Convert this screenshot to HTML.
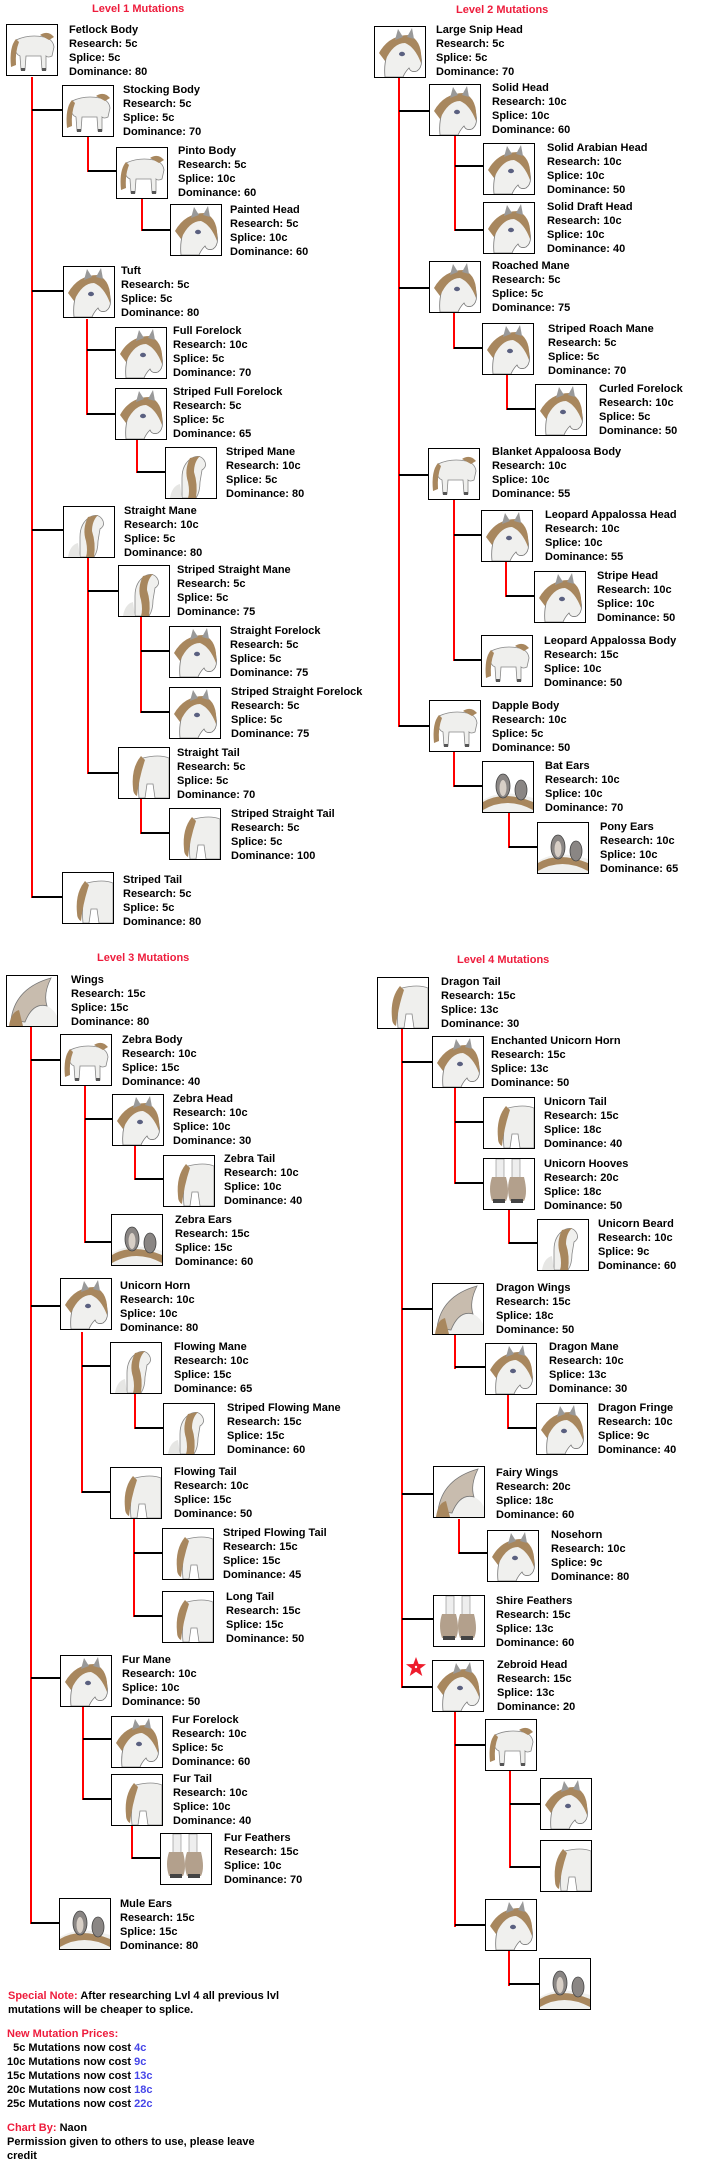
<!DOCTYPE html>
<html>
<head>
<meta charset="utf-8">
<style>
html,body{margin:0;padding:0;background:#fff;}
#pg{position:relative;width:706px;height:2170px;overflow:hidden;background:#fff;}
.b{position:absolute;width:50px;height:50px;border:1px solid #000;background:#fff;overflow:hidden;}
.b svg{display:block;width:50px;height:50px;}
.t{position:absolute;font:bold 11px/14px "Liberation Sans",Arial,sans-serif;color:#000;white-space:pre;}
.h{position:absolute;font:bold 11px/14px "Liberation Sans",Arial,sans-serif;color:#ee1c3c;white-space:pre;}
.r{position:absolute;width:2px;background:#ff0000;}
.k{position:absolute;height:2px;background:#000;}
.red{color:#ee1c3c;}
.blu{color:#4646e8;}
</style>
</head>
<body>
<div id="pg">
<svg width="0" height="0" style="position:absolute">
<defs>
<symbol id="body" viewBox="0 0 50 50">
<path d="M9 15 Q22 9 37 12 Q46 14 47 22 L45 31 Q41 33 39 31 L39 45 L35 45 L34 31 L19 31 L18 45 L14 45 L13 31 Q8 29 8 22Z" fill="#efefed" stroke="#888" stroke-width=".8"/>
<path d="M9 14 Q2 22 4 42 L9 40 Q8 27 12 17Z" fill="#a8875e"/>
<path d="M33 10 Q41 5 47 12 L42 15Z" fill="#a8875e"/>
<rect x="14" y="43" width="4" height="3" fill="#555"/><rect x="35" y="43" width="4" height="3" fill="#555"/>
</symbol>
<symbol id="head" viewBox="0 0 50 50">
<path d="M10 50 Q8 30 18 16 Q26 8 36 10 Q44 14 46 30 Q48 40 42 44 Q36 46 34 41 Q30 45 28 50Z" fill="#f0f0ee" stroke="#777" stroke-width=".8"/>
<path d="M4 26 Q14 8 34 8 Q48 14 46 36 Q40 20 30 16 Q18 16 10 34Z" fill="#a8875e"/>
<path d="M20 13 L23 2 L28 10Z" fill="#999"/><path d="M32 10 L37 1 L39 12Z" fill="#999"/>
<ellipse cx="27" cy="27" rx="3" ry="2.2" fill="#5a6080"/>
</symbol>
<symbol id="mane" viewBox="0 0 50 50">
<path d="M16 50 L16 30 Q16 16 26 10 Q34 6 38 12 Q42 18 36 22 L34 34 Q34 44 30 50Z" fill="#f0f0ee" stroke="#888" stroke-width=".8"/>
<path d="M24 10 Q18 22 22 34 Q24 44 22 50 L30 50 Q32 36 28 24 Q28 14 34 8Z" fill="#a8875e"/>
<path d="M4 50 Q6 38 14 36 L16 50Z" fill="#e6e6e4"/>
</symbol>
<symbol id="tail" viewBox="0 0 50 50">
<path d="M24 10 Q40 6 50 10 L50 50 L36 50 L34 36 L28 36 L26 50 L20 50 Q18 30 24 10Z" fill="#efefed" stroke="#888" stroke-width=".8"/>
<path d="M22 8 Q12 20 14 40 Q14 46 18 48 Q20 30 26 12Z" fill="#a8875e"/>
</symbol>
<symbol id="ears" viewBox="0 0 50 50">
<path d="M0 50 L0 38 Q20 26 50 36 L50 50Z" fill="#f0f0ee"/>
<path d="M0 40 Q20 28 50 40 L50 48 Q24 34 0 48Z" fill="#a8875e"/>
<ellipse cx="20" cy="24" rx="7" ry="12" fill="#8a8684" stroke="#444" stroke-width=".8"/>
<ellipse cx="20" cy="26" rx="3.5" ry="8" fill="#d8cfc6"/>
<ellipse cx="38" cy="28" rx="6" ry="10" fill="#8a8684" stroke="#444" stroke-width=".8"/>
</symbol>
<symbol id="hooves" viewBox="0 0 50 50">
<rect x="12" y="0" width="8" height="20" fill="#eee" stroke="#888" stroke-width=".6"/>
<rect x="28" y="0" width="8" height="20" fill="#eee" stroke="#888" stroke-width=".6"/>
<path d="M8 18 L22 18 Q26 34 22 42 L8 42 Q4 30 8 18Z" fill="#b3a08c"/>
<path d="M26 18 L40 18 Q44 34 40 42 L26 42 Q22 30 26 18Z" fill="#b3a08c"/>
<rect x="9" y="40" width="12" height="4" fill="#444"/><rect x="27" y="40" width="12" height="4" fill="#444"/>
</symbol>
<symbol id="wings" viewBox="0 0 50 50">
<path d="M10 50 Q14 30 30 28 Q44 28 50 40 L50 50Z" fill="#f0f0ee"/>
<path d="M4 44 Q8 12 44 2 Q36 18 40 30 Q26 26 18 46Z" fill="#c8bcae" stroke="#777" stroke-width=".8"/>
<path d="M2 50 Q4 36 12 34 L16 50Z" fill="#a8875e"/>
</symbol>
<symbol id="star" viewBox="0 0 22 22">
<path d="M11 1 L13.6 8 L21 8.2 L15.1 12.8 L17.3 20 L11 15.8 L4.7 20 L6.9 12.8 L1 8.2 L8.4 8Z" fill="#ee1c2c"/>
<circle cx="11" cy="11" r="1.2" fill="#fff"/>
</symbol>
</defs>
</svg>

<!-- ============ LEVEL 1 ============ -->
<div class="h" style="left:92px;top:2px">Level 1 Mutations</div>

<div class="r" style="left:31px;top:77px;height:821px"></div>
<div class="k" style="left:32px;top:109px;width:30px"></div>
<div class="k" style="left:32px;top:290px;width:31px"></div>
<div class="k" style="left:32px;top:529px;width:31px"></div>
<div class="k" style="left:32px;top:896px;width:30px"></div>

<div class="r" style="left:87px;top:137px;height:35px"></div>
<div class="k" style="left:88px;top:170px;width:28px"></div>
<div class="r" style="left:141px;top:197px;height:34px"></div>
<div class="k" style="left:142px;top:229px;width:28px"></div>
<div class="r" style="left:86px;top:319px;height:96px"></div>
<div class="k" style="left:87px;top:349px;width:28px"></div>
<div class="k" style="left:87px;top:413px;width:28px"></div>
<div class="r" style="left:136px;top:437px;height:36px"></div>
<div class="k" style="left:137px;top:471px;width:28px"></div>
<div class="r" style="left:87px;top:557px;height:217px"></div>
<div class="k" style="left:88px;top:590px;width:30px"></div>
<div class="k" style="left:88px;top:772px;width:30px"></div>
<div class="r" style="left:140px;top:616px;height:97px"></div>
<div class="k" style="left:141px;top:650px;width:28px"></div>
<div class="k" style="left:141px;top:711px;width:28px"></div>
<div class="r" style="left:140px;top:798px;height:36px"></div>
<div class="k" style="left:141px;top:832px;width:28px"></div>

<div class="b" style="left:6px;top:24px"><svg><use href="#body"/></svg></div>
<div class="t" style="left:69px;top:23px">Fetlock Body
Research: 5c
Splice: 5c
Dominance: 80</div>
<div class="b" style="left:62px;top:85px"><svg><use href="#body"/></svg></div>
<div class="t" style="left:123px;top:83px">Stocking Body
Research: 5c
Splice: 5c
Dominance: 70</div>
<div class="b" style="left:116px;top:147px"><svg><use href="#body"/></svg></div>
<div class="t" style="left:178px;top:144px">Pinto Body
Research: 5c
Splice: 10c
Dominance: 60</div>
<div class="b" style="left:170px;top:204px"><svg><use href="#head"/></svg></div>
<div class="t" style="left:230px;top:203px">Painted Head
Research: 5c
Splice: 10c
Dominance: 60</div>
<div class="b" style="left:63px;top:266px"><svg><use href="#head"/></svg></div>
<div class="t" style="left:121px;top:264px">Tuft
Research: 5c
Splice: 5c
Dominance: 80</div>
<div class="b" style="left:115px;top:327px"><svg><use href="#head"/></svg></div>
<div class="t" style="left:173px;top:324px">Full Forelock
Research: 10c
Splice: 5c
Dominance: 70</div>
<div class="b" style="left:115px;top:388px"><svg><use href="#head"/></svg></div>
<div class="t" style="left:173px;top:385px">Striped Full Forelock
Research: 5c
Splice: 5c
Dominance: 65</div>
<div class="b" style="left:165px;top:447px"><svg><use href="#mane"/></svg></div>
<div class="t" style="left:226px;top:445px">Striped Mane
Research: 10c
Splice: 5c
Dominance: 80</div>
<div class="b" style="left:63px;top:506px"><svg><use href="#mane"/></svg></div>
<div class="t" style="left:124px;top:504px">Straight Mane
Research: 10c
Splice: 5c
Dominance: 80</div>
<div class="b" style="left:118px;top:565px"><svg><use href="#mane"/></svg></div>
<div class="t" style="left:177px;top:563px">Striped Straight Mane
Research: 5c
Splice: 5c
Dominance: 75</div>
<div class="b" style="left:169px;top:626px"><svg><use href="#head"/></svg></div>
<div class="t" style="left:230px;top:624px">Straight Forelock
Research: 5c
Splice: 5c
Dominance: 75</div>
<div class="b" style="left:169px;top:687px"><svg><use href="#head"/></svg></div>
<div class="t" style="left:231px;top:685px">Striped Straight Forelock
Research: 5c
Splice: 5c
Dominance: 75</div>
<div class="b" style="left:118px;top:747px"><svg><use href="#tail"/></svg></div>
<div class="t" style="left:177px;top:746px">Straight Tail
Research: 5c
Splice: 5c
Dominance: 70</div>
<div class="b" style="left:169px;top:808px"><svg><use href="#tail"/></svg></div>
<div class="t" style="left:231px;top:807px">Striped Straight Tail
Research: 5c
Splice: 5c
Dominance: 100</div>
<div class="b" style="left:62px;top:872px"><svg><use href="#tail"/></svg></div>
<div class="t" style="left:123px;top:873px">Striped Tail
Research: 5c
Splice: 5c
Dominance: 80</div>

<!-- ============ LEVEL 2 ============ -->
<div class="h" style="left:456px;top:3px">Level 2 Mutations</div>

<div class="r" style="left:398px;top:77px;height:650px"></div>
<div class="k" style="left:399px;top:110px;width:30px"></div>
<div class="k" style="left:399px;top:287px;width:30px"></div>
<div class="k" style="left:399px;top:474px;width:29px"></div>
<div class="k" style="left:399px;top:725px;width:30px"></div>

<div class="r" style="left:454px;top:136px;height:95px"></div>
<div class="k" style="left:455px;top:165px;width:28px"></div>
<div class="k" style="left:455px;top:229px;width:28px"></div>
<div class="r" style="left:453px;top:313px;height:36px"></div>
<div class="k" style="left:454px;top:347px;width:28px"></div>
<div class="r" style="left:506px;top:375px;height:35px"></div>
<div class="k" style="left:507px;top:408px;width:28px"></div>
<div class="r" style="left:453px;top:500px;height:161px"></div>
<div class="k" style="left:454px;top:534px;width:27px"></div>
<div class="k" style="left:454px;top:659px;width:27px"></div>
<div class="r" style="left:505px;top:561px;height:36px"></div>
<div class="k" style="left:506px;top:595px;width:28px"></div>
<div class="r" style="left:453px;top:751px;height:36px"></div>
<div class="k" style="left:454px;top:785px;width:28px"></div>
<div class="r" style="left:508px;top:812px;height:36px"></div>
<div class="k" style="left:509px;top:846px;width:28px"></div>

<div class="b" style="left:374px;top:26px"><svg><use href="#head"/></svg></div>
<div class="t" style="left:436px;top:23px">Large Snip Head
Research: 5c
Splice: 5c
Dominance: 70</div>
<div class="b" style="left:429px;top:84px"><svg><use href="#head"/></svg></div>
<div class="t" style="left:492px;top:81px">Solid Head
Research: 10c
Splice: 10c
Dominance: 60</div>
<div class="b" style="left:483px;top:143px"><svg><use href="#head"/></svg></div>
<div class="t" style="left:547px;top:141px">Solid Arabian Head
Research: 10c
Splice: 10c
Dominance: 50</div>
<div class="b" style="left:483px;top:202px"><svg><use href="#head"/></svg></div>
<div class="t" style="left:547px;top:200px">Solid Draft Head
Research: 10c
Splice: 10c
Dominance: 40</div>
<div class="b" style="left:429px;top:261px"><svg><use href="#head"/></svg></div>
<div class="t" style="left:492px;top:259px">Roached Mane
Research: 5c
Splice: 5c
Dominance: 75</div>
<div class="b" style="left:482px;top:323px"><svg><use href="#head"/></svg></div>
<div class="t" style="left:548px;top:322px">Striped Roach Mane
Research: 5c
Splice: 5c
Dominance: 70</div>
<div class="b" style="left:535px;top:384px"><svg><use href="#head"/></svg></div>
<div class="t" style="left:599px;top:382px">Curled Forelock
Research: 10c
Splice: 5c
Dominance: 50</div>
<div class="b" style="left:428px;top:448px"><svg><use href="#body"/></svg></div>
<div class="t" style="left:492px;top:445px">Blanket Appaloosa Body
Research: 10c
Splice: 10c
Dominance: 55</div>
<div class="b" style="left:481px;top:510px"><svg><use href="#head"/></svg></div>
<div class="t" style="left:545px;top:508px">Leopard Appalossa Head
Research: 10c
Splice: 10c
Dominance: 55</div>
<div class="b" style="left:534px;top:571px"><svg><use href="#head"/></svg></div>
<div class="t" style="left:597px;top:569px">Stripe Head
Research: 10c
Splice: 10c
Dominance: 50</div>
<div class="b" style="left:481px;top:635px"><svg><use href="#body"/></svg></div>
<div class="t" style="left:544px;top:634px">Leopard Appalossa Body
Research: 15c
Splice: 10c
Dominance: 50</div>
<div class="b" style="left:429px;top:700px"><svg><use href="#body"/></svg></div>
<div class="t" style="left:492px;top:699px">Dapple Body
Research: 10c
Splice: 5c
Dominance: 50</div>
<div class="b" style="left:482px;top:761px"><svg><use href="#ears"/></svg></div>
<div class="t" style="left:545px;top:759px">Bat Ears
Research: 10c
Splice: 10c
Dominance: 70</div>
<div class="b" style="left:537px;top:822px"><svg><use href="#ears"/></svg></div>
<div class="t" style="left:600px;top:820px">Pony Ears
Research: 10c
Splice: 10c
Dominance: 65</div>

<!-- ============ LEVEL 3 ============ -->
<div class="h" style="left:97px;top:951px">Level 3 Mutations</div>

<div class="r" style="left:30px;top:1026px;height:898px"></div>
<div class="k" style="left:31px;top:1059px;width:29px"></div>
<div class="k" style="left:31px;top:1305px;width:29px"></div>
<div class="k" style="left:31px;top:1677px;width:29px"></div>
<div class="k" style="left:31px;top:1922px;width:28px"></div>

<div class="r" style="left:84px;top:1086px;height:157px"></div>
<div class="k" style="left:85px;top:1118px;width:27px"></div>
<div class="k" style="left:85px;top:1241px;width:26px"></div>
<div class="r" style="left:134px;top:1144px;height:36px"></div>
<div class="k" style="left:135px;top:1178px;width:28px"></div>
<div class="r" style="left:81px;top:1332px;height:161px"></div>
<div class="k" style="left:82px;top:1365px;width:28px"></div>
<div class="k" style="left:82px;top:1491px;width:28px"></div>
<div class="r" style="left:134px;top:1393px;height:36px"></div>
<div class="k" style="left:135px;top:1427px;width:28px"></div>
<div class="r" style="left:133px;top:1518px;height:99px"></div>
<div class="k" style="left:134px;top:1552px;width:28px"></div>
<div class="k" style="left:134px;top:1615px;width:28px"></div>
<div class="r" style="left:82px;top:1705px;height:95px"></div>
<div class="k" style="left:83px;top:1738px;width:28px"></div>
<div class="k" style="left:83px;top:1798px;width:28px"></div>
<div class="r" style="left:131px;top:1823px;height:36px"></div>
<div class="k" style="left:132px;top:1857px;width:28px"></div>

<div class="b" style="left:6px;top:975px"><svg><use href="#wings"/></svg></div>
<div class="t" style="left:71px;top:973px">Wings
Research: 15c
Splice: 15c
Dominance: 80</div>
<div class="b" style="left:60px;top:1034px"><svg><use href="#body"/></svg></div>
<div class="t" style="left:122px;top:1033px">Zebra Body
Research: 10c
Splice: 15c
Dominance: 40</div>
<div class="b" style="left:112px;top:1094px"><svg><use href="#head"/></svg></div>
<div class="t" style="left:173px;top:1092px">Zebra Head
Research: 10c
Splice: 10c
Dominance: 30</div>
<div class="b" style="left:163px;top:1155px"><svg><use href="#tail"/></svg></div>
<div class="t" style="left:224px;top:1152px">Zebra Tail
Research: 10c
Splice: 10c
Dominance: 40</div>
<div class="b" style="left:111px;top:1214px"><svg><use href="#ears"/></svg></div>
<div class="t" style="left:175px;top:1213px">Zebra Ears
Research: 15c
Splice: 15c
Dominance: 60</div>
<div class="b" style="left:60px;top:1278px"><svg><use href="#head"/></svg></div>
<div class="t" style="left:120px;top:1279px">Unicorn Horn
Research: 10c
Splice: 10c
Dominance: 80</div>
<div class="b" style="left:110px;top:1342px"><svg><use href="#mane"/></svg></div>
<div class="t" style="left:174px;top:1340px">Flowing Mane
Research: 10c
Splice: 15c
Dominance: 65</div>
<div class="b" style="left:163px;top:1403px"><svg><use href="#mane"/></svg></div>
<div class="t" style="left:227px;top:1401px">Striped Flowing Mane
Research: 15c
Splice: 15c
Dominance: 60</div>
<div class="b" style="left:110px;top:1467px"><svg><use href="#tail"/></svg></div>
<div class="t" style="left:174px;top:1465px">Flowing Tail
Research: 10c
Splice: 15c
Dominance: 50</div>
<div class="b" style="left:162px;top:1528px"><svg><use href="#tail"/></svg></div>
<div class="t" style="left:223px;top:1526px">Striped Flowing Tail
Research: 15c
Splice: 15c
Dominance: 45</div>
<div class="b" style="left:162px;top:1591px"><svg><use href="#tail"/></svg></div>
<div class="t" style="left:226px;top:1590px">Long Tail
Research: 15c
Splice: 15c
Dominance: 50</div>
<div class="b" style="left:60px;top:1655px"><svg><use href="#head"/></svg></div>
<div class="t" style="left:122px;top:1653px">Fur Mane
Research: 10c
Splice: 10c
Dominance: 50</div>
<div class="b" style="left:111px;top:1716px"><svg><use href="#head"/></svg></div>
<div class="t" style="left:172px;top:1713px">Fur Forelock
Research: 10c
Splice: 5c
Dominance: 60</div>
<div class="b" style="left:111px;top:1774px"><svg><use href="#tail"/></svg></div>
<div class="t" style="left:173px;top:1772px">Fur Tail
Research: 10c
Splice: 10c
Dominance: 40</div>
<div class="b" style="left:160px;top:1833px"><svg><use href="#hooves"/></svg></div>
<div class="t" style="left:224px;top:1831px">Fur Feathers
Research: 15c
Splice: 10c
Dominance: 70</div>
<div class="b" style="left:59px;top:1898px"><svg><use href="#ears"/></svg></div>
<div class="t" style="left:120px;top:1897px">Mule Ears
Research: 15c
Splice: 15c
Dominance: 80</div>

<!-- ============ LEVEL 4 ============ -->
<div class="h" style="left:457px;top:953px">Level 4 Mutations</div>

<div class="r" style="left:401px;top:1028px;height:660px"></div>
<div class="k" style="left:402px;top:1061px;width:30px"></div>
<div class="k" style="left:402px;top:1308px;width:30px"></div>
<div class="k" style="left:402px;top:1493px;width:31px"></div>
<div class="k" style="left:402px;top:1618px;width:31px"></div>
<div class="k" style="left:402px;top:1686px;width:30px"></div>

<div class="r" style="left:454px;top:1087px;height:97px"></div>
<div class="k" style="left:455px;top:1121px;width:28px"></div>
<div class="k" style="left:455px;top:1182px;width:28px"></div>
<div class="r" style="left:508px;top:1209px;height:35px"></div>
<div class="k" style="left:509px;top:1242px;width:28px"></div>
<div class="r" style="left:454px;top:1334px;height:35px"></div>
<div class="k" style="left:455px;top:1366px;width:30px"></div>
<div class="r" style="left:507px;top:1393px;height:36px"></div>
<div class="k" style="left:508px;top:1427px;width:28px"></div>
<div class="r" style="left:458px;top:1519px;height:35px"></div>
<div class="k" style="left:459px;top:1552px;width:28px"></div>
<div class="r" style="left:454px;top:1711px;height:216px"></div>
<div class="k" style="left:455px;top:1744px;width:30px"></div>
<div class="k" style="left:455px;top:1924px;width:30px"></div>
<div class="r" style="left:509px;top:1770px;height:98px"></div>
<div class="k" style="left:510px;top:1803px;width:30px"></div>
<div class="k" style="left:510px;top:1866px;width:30px"></div>
<div class="r" style="left:508px;top:1950px;height:36px"></div>
<div class="k" style="left:509px;top:1983px;width:30px"></div>

<div class="b" style="left:377px;top:977px"><svg><use href="#tail"/></svg></div>
<div class="t" style="left:441px;top:975px">Dragon Tail
Research: 15c
Splice: 13c
Dominance: 30</div>
<div class="b" style="left:432px;top:1036px"><svg><use href="#head"/></svg></div>
<div class="t" style="left:491px;top:1034px">Enchanted Unicorn Horn
Research: 15c
Splice: 13c
Dominance: 50</div>
<div class="b" style="left:483px;top:1097px"><svg><use href="#tail"/></svg></div>
<div class="t" style="left:544px;top:1095px">Unicorn Tail
Research: 15c
Splice: 18c
Dominance: 40</div>
<div class="b" style="left:483px;top:1158px"><svg><use href="#hooves"/></svg></div>
<div class="t" style="left:544px;top:1157px">Unicorn Hooves
Research: 20c
Splice: 18c
Dominance: 50</div>
<div class="b" style="left:537px;top:1219px"><svg><use href="#mane"/></svg></div>
<div class="t" style="left:598px;top:1217px">Unicorn Beard
Research: 10c
Splice: 9c
Dominance: 60</div>
<div class="b" style="left:432px;top:1283px"><svg><use href="#wings"/></svg></div>
<div class="t" style="left:496px;top:1281px">Dragon Wings
Research: 15c
Splice: 18c
Dominance: 50</div>
<div class="b" style="left:485px;top:1343px"><svg><use href="#head"/></svg></div>
<div class="t" style="left:549px;top:1340px">Dragon Mane
Research: 10c
Splice: 13c
Dominance: 30</div>
<div class="b" style="left:536px;top:1403px"><svg><use href="#head"/></svg></div>
<div class="t" style="left:598px;top:1401px">Dragon Fringe
Research: 10c
Splice: 9c
Dominance: 40</div>
<div class="b" style="left:433px;top:1466px"><svg><use href="#wings"/></svg></div>
<div class="t" style="left:496px;top:1466px">Fairy Wings
Research: 20c
Splice: 18c
Dominance: 60</div>
<div class="b" style="left:487px;top:1530px"><svg><use href="#head"/></svg></div>
<div class="t" style="left:551px;top:1528px">Nosehorn
Research: 10c
Splice: 9c
Dominance: 80</div>
<div class="b" style="left:433px;top:1595px"><svg><use href="#hooves"/></svg></div>
<div class="t" style="left:496px;top:1594px">Shire Feathers
Research: 15c
Splice: 13c
Dominance: 60</div>
<div class="b" style="left:432px;top:1660px"><svg><use href="#head"/></svg></div>
<div class="t" style="left:497px;top:1658px">Zebroid Head
Research: 15c
Splice: 13c
Dominance: 20</div>
<svg style="position:absolute;left:405px;top:1656px" width="22" height="22"><use href="#star"/></svg>

<div class="b" style="left:485px;top:1719px"><svg><use href="#body"/></svg></div>
<div class="b" style="left:540px;top:1778px"><svg><use href="#head"/></svg></div>
<div class="b" style="left:540px;top:1840px"><svg><use href="#tail"/></svg></div>
<div class="b" style="left:485px;top:1899px"><svg><use href="#head"/></svg></div>
<div class="b" style="left:539px;top:1958px"><svg><use href="#ears"/></svg></div>

<!-- ============ FOOTER ============ -->
<div class="t" style="left:8px;top:1989px"><span class="red">Special Note:</span> After researching Lvl 4 all previous lvl
mutations will be cheaper to splice.</div>
<div class="t" style="left:7px;top:2027px"><span class="red">New Mutation Prices:</span>
  5c Mutations now cost <span class="blu">4c</span>
10c Mutations now cost <span class="blu">9c</span>
15c Mutations now cost <span class="blu">13c</span>
20c Mutations now cost <span class="blu">18c</span>
25c Mutations now cost <span class="blu">22c</span></div>
<div class="t" style="left:7px;top:2121px"><span class="red">Chart By:</span> Naon
Permission given to others to use, please leave
credit</div>
</div>
</body>
</html>
